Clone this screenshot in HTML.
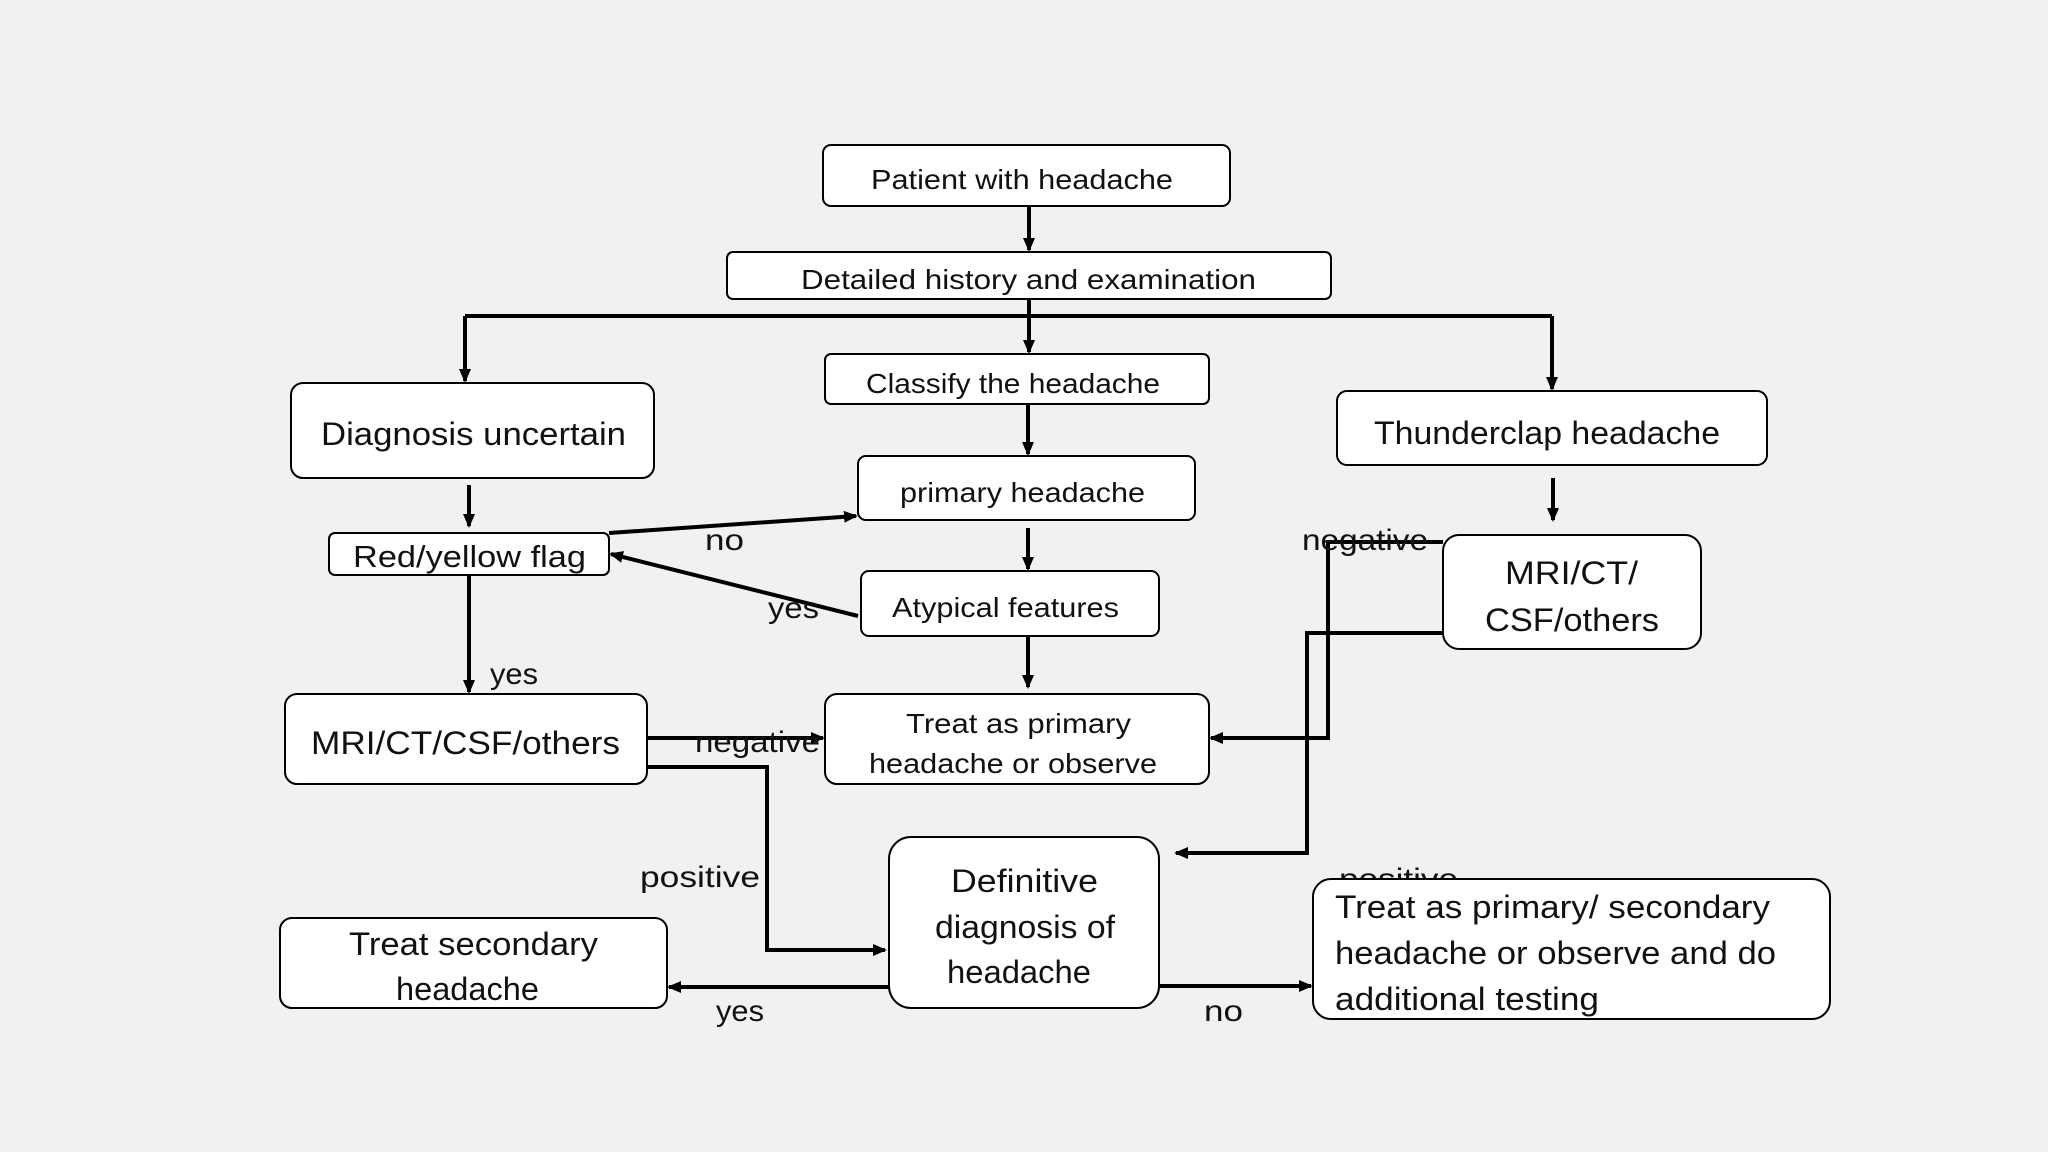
<!DOCTYPE html>
<html><head><meta charset="utf-8"><style>
html,body{margin:0;padding:0;background:#f1f1f1;}
svg{display:block;}
text{font-family:"Liberation Sans",sans-serif;fill:#111;}
</style></head><body>
<svg width="2048" height="1152" viewBox="0 0 2048 1152" xmlns="http://www.w3.org/2000/svg">
<defs>
<marker id="a" markerWidth="14" markerHeight="12" refX="12" refY="6" orient="auto" markerUnits="userSpaceOnUse">
<path d="M0,0 L14,6 L0,12 z" fill="#000"/>
</marker>
</defs>
<rect width="2048" height="1152" fill="#f1f1f1"/>
<text x="1339" y="889" font-size="30" textLength="119" lengthAdjust="spacingAndGlyphs">positive</text>
<g fill="#fff" stroke="#000" stroke-width="2">
<rect x="823" y="145" width="407" height="61" rx="8"/>
<rect x="727" y="252" width="604" height="47" rx="6"/>
<rect x="825" y="354" width="384" height="50" rx="6"/>
<rect x="291" y="383" width="363" height="95" rx="12"/>
<rect x="1337" y="391" width="430" height="74" rx="10"/>
<rect x="858" y="456" width="337" height="64" rx="8"/>
<rect x="329" y="533" width="280" height="42" rx="6"/>
<rect x="861" y="571" width="298" height="65" rx="8"/>
<rect x="1443" y="535" width="258" height="114" rx="16"/>
<rect x="285" y="694" width="362" height="90" rx="12"/>
<rect x="825" y="694" width="384" height="90" rx="12"/>
<rect x="889" y="837" width="270" height="171" rx="22"/>
<rect x="280" y="918" width="387" height="90" rx="12"/>
<rect x="1313" y="879" width="517" height="140" rx="18"/>
</g>
<g stroke="#000" stroke-width="4" fill="none" marker-end="url(#a)">
<path d="M1029,206 V250"/>
<path d="M1029,299 V352"/>
<path d="M465,316 V381"/>
<path d="M1552,316 V389"/>
<path d="M1028,404 V454"/>
<path d="M469,485 V526"/>
<path d="M1553,478 V520"/>
<path d="M1028,528 V569"/>
<path d="M1028,636 V687"/>
<path d="M609,533 L856,516"/>
<path d="M858,616 L611,554"/>
<path d="M469,575 V692"/>
<path d="M647,738 H823"/>
<path d="M647,767 H767 V950 H885"/>
<path d="M889,987 H669"/>
<path d="M1159,986 H1311"/>
<path d="M1443,542 H1328 V738 H1211"/>
<path d="M1443,633 H1307 V853 H1176"/>
</g>
<path d="M465,316 H1552" stroke="#000" stroke-width="4"/>
<g font-size="28">
<text x="871" y="189" textLength="302" lengthAdjust="spacingAndGlyphs">Patient with headache</text>
<text x="801" y="289" textLength="455" lengthAdjust="spacingAndGlyphs">Detailed history and examination</text>
<text x="866" y="393" textLength="294" lengthAdjust="spacingAndGlyphs">Classify the headache</text>
<text x="900" y="502" textLength="245" lengthAdjust="spacingAndGlyphs">primary headache</text>
<text x="892" y="617" textLength="227" lengthAdjust="spacingAndGlyphs">Atypical features</text>
<text x="906" y="733" textLength="225" lengthAdjust="spacingAndGlyphs">Treat as primary</text>
<text x="869" y="773" textLength="288" lengthAdjust="spacingAndGlyphs">headache or observe</text>
</g>
<g font-size="32">
<text x="321" y="445" textLength="305" lengthAdjust="spacingAndGlyphs">Diagnosis uncertain</text>
<text x="1374" y="444" textLength="346" lengthAdjust="spacingAndGlyphs">Thunderclap headache</text>
<text x="353" y="567" font-size="31" textLength="233" lengthAdjust="spacingAndGlyphs">Red/yellow flag</text>
<text x="1505" y="584" textLength="133" lengthAdjust="spacingAndGlyphs">MRI/CT/</text>
<text x="1485" y="631" textLength="174" lengthAdjust="spacingAndGlyphs">CSF/others</text>
<text x="311" y="754" textLength="309" lengthAdjust="spacingAndGlyphs">MRI/CT/CSF/others</text>
<text x="951" y="892" textLength="147" lengthAdjust="spacingAndGlyphs">Definitive</text>
<text x="935" y="938" textLength="180" lengthAdjust="spacingAndGlyphs">diagnosis of</text>
<text x="947" y="983" textLength="144" lengthAdjust="spacingAndGlyphs">headache</text>
<text x="349" y="955" textLength="249" lengthAdjust="spacingAndGlyphs">Treat secondary</text>
<text x="396" y="1000" textLength="143" lengthAdjust="spacingAndGlyphs">headache</text>
<text x="1335" y="918" textLength="435" lengthAdjust="spacingAndGlyphs">Treat as primary/ secondary</text>
<text x="1335" y="964" textLength="441" lengthAdjust="spacingAndGlyphs">headache or observe and do</text>
<text x="1335" y="1010" textLength="264" lengthAdjust="spacingAndGlyphs">additional testing</text>
</g>
<g font-size="30">
<text x="705" y="550" textLength="39" lengthAdjust="spacingAndGlyphs">no</text>
<text x="768" y="618" textLength="51" lengthAdjust="spacingAndGlyphs">yes</text>
<text x="490" y="684" textLength="48" lengthAdjust="spacingAndGlyphs">yes</text>
<text x="695" y="752" textLength="125" lengthAdjust="spacingAndGlyphs">negative</text>
<text x="1302" y="550" textLength="126" lengthAdjust="spacingAndGlyphs">negative</text>
<text x="640" y="887" textLength="120" lengthAdjust="spacingAndGlyphs">positive</text>
<text x="716" y="1021" textLength="48" lengthAdjust="spacingAndGlyphs">yes</text>
<text x="1204" y="1021" textLength="39" lengthAdjust="spacingAndGlyphs">no</text>
</g>
</svg>
</body></html>
